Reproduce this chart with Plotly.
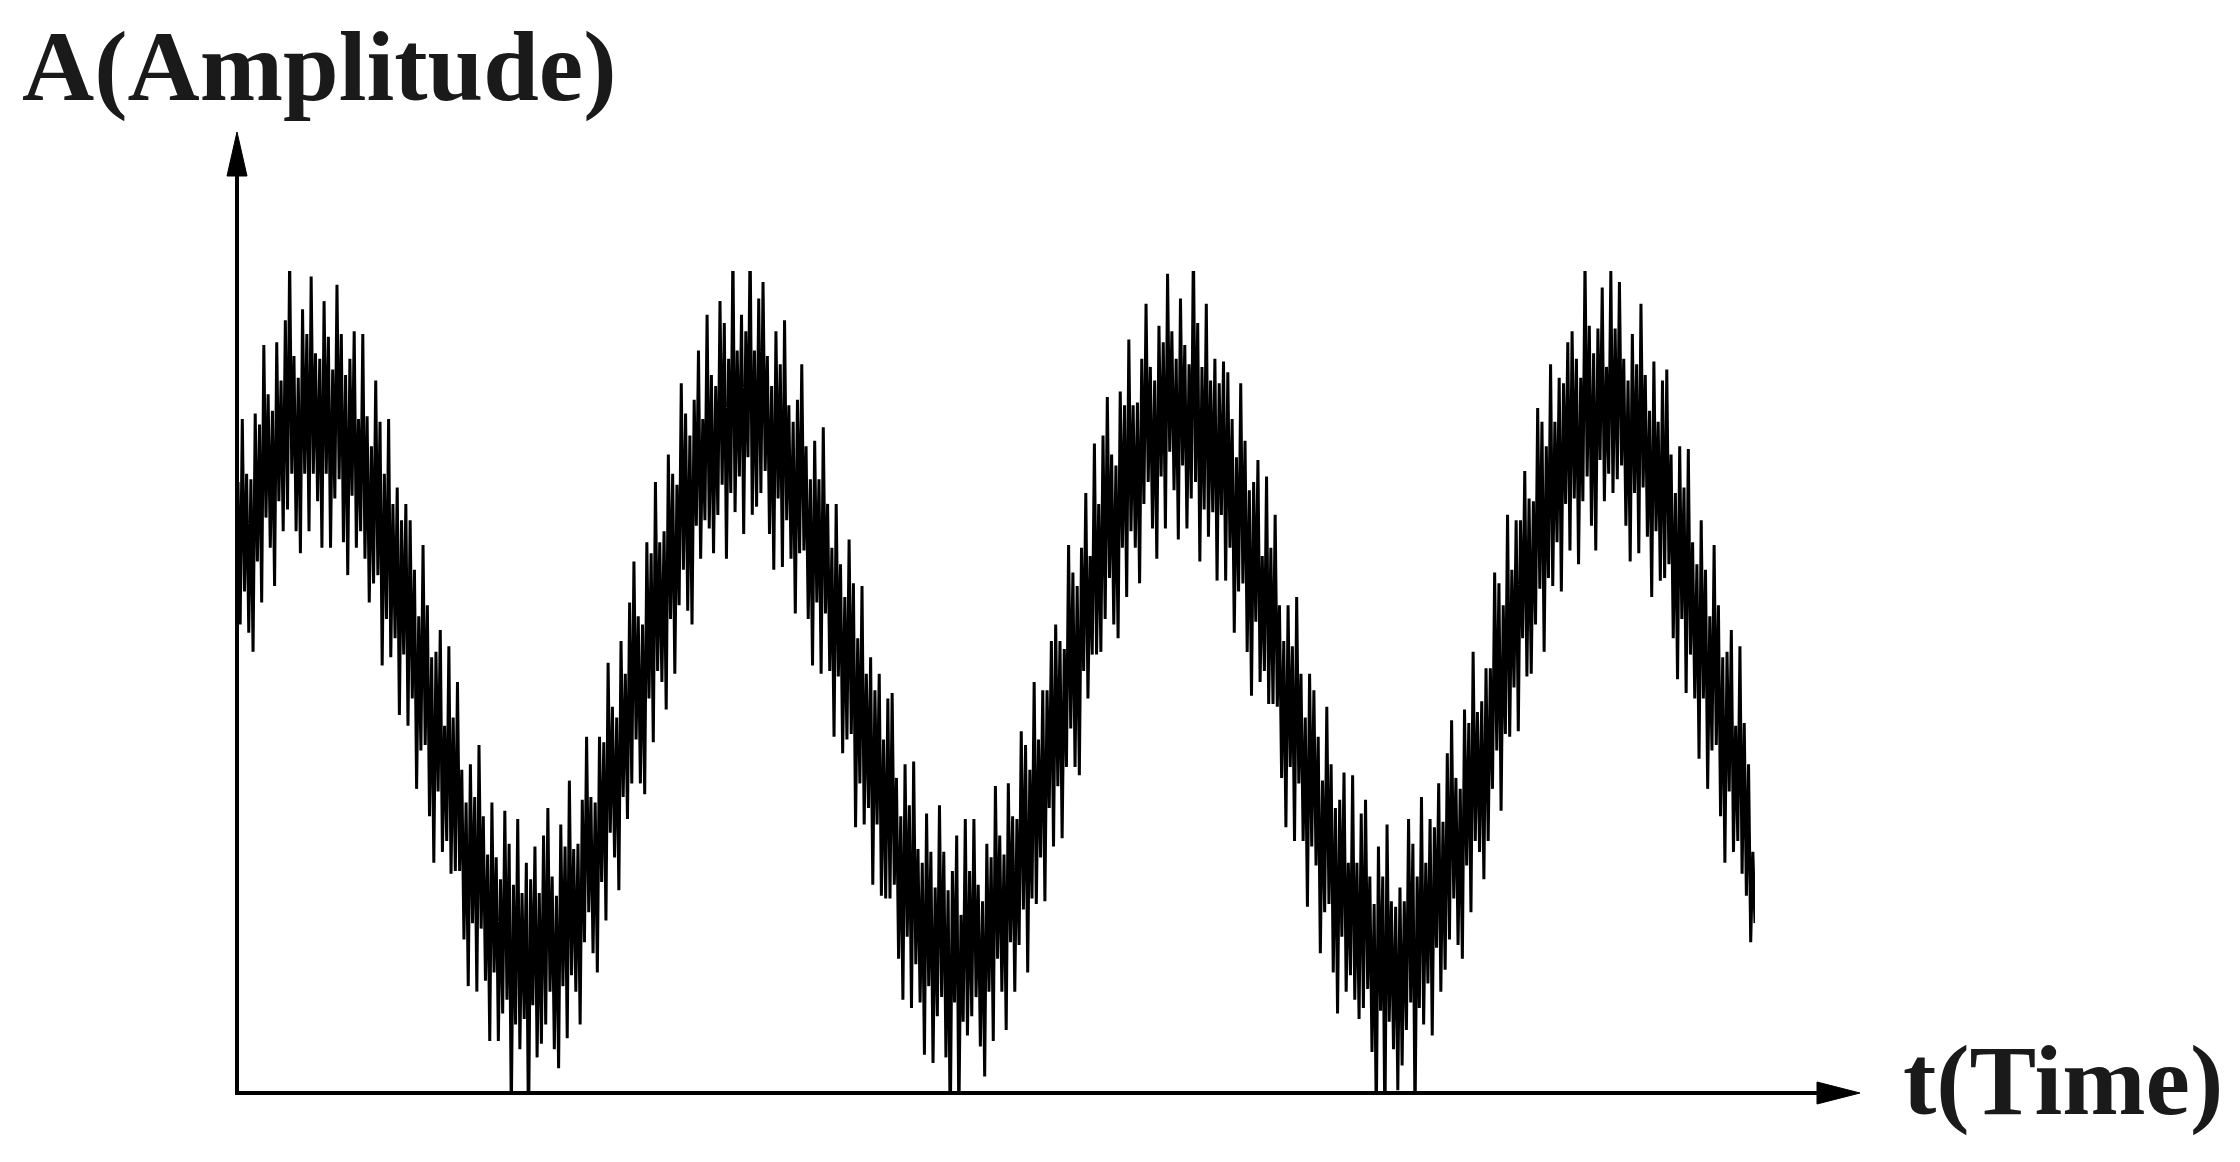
import plotly.graph_objects as go

W, H = 2240, 1162

# noisy sine, one value per sample (amplitude units)
amplitude = [
    73, 21, 96, 33, 76, 18, 74, 11, 98, 44, 94, 29, 123, 60, 105, 49, 99, 35, 124, 66,
    110, 55, 132, 63, 155, 76, 119, 55, 111, 47, 136, 76, 127, 55, 148, 76, 120, 66, 118, 49,
    139, 76, 126, 49, 114, 67, 145, 74, 127, 51, 112, 39, 118, 68, 128, 49, 96, 55, 127, 45,
    97, 29, 86, 36, 110, 39, 95, 6, 76, 23, 96, 9, 65, 16, 71, -12, 59, 10, 65, -16,
    59, -6, 41, -39, 24, -25, 50, -23, 28, -49, 9, -66, 11, -40, 19, -62, -16, -58, 13, -70,
    -13, -69, 0, -69, -32, -94, -44, -111, -30, -88, -42, -113, -23, -90, -49, -109, -63, -131, -44, -106,
    -64, -131, -72, -121, -47, -116, -59, -158, -74, -125, -50, -134, -77, -123, -66, -166, -72, -118, -60, -137,
    -77, -132, -56, -125, -46, -113, -71, -134, -78, -141, -52, -111, -60, -130, -36, -107, -61, -113, -59, -125,
    -43, -95, -20, -84, -42, -99, -44, -106, -20, -73, -22, -87, 7, -55, -9, -64, -13, -76, 15, -42,
    3, -50, 29, -37, 44, -21, 24, -37, 21, -41, 51, -6, 47, -22, 73, 4, 51, 0, 55, -10,
    83, 23, 76, 3, 72, 28, 109, 41, 98, 26, 90, 21, 103, 57, 121, 45, 96, 59, 134, 56,
    112, 47, 108, 61, 139, 72, 131, 45, 118, 69, 158, 62, 121, 75, 134, 54, 128, 82, 161, 61,
    121, 64, 140, 69, 146, 77, 119, 54, 108, 41, 128, 67, 116, 42, 132, 59, 101, 45, 95, 25,
    103, 47, 116, 48, 86, 23, 74, 6, 88, 29, 74, 3, 93, 25, 65, 4, 49, -20, 65, 2,
    43, -26, 31, -21, 52, -19, 36, -53, 16, -37, 35, -52, 3, -46, 9, -74, -3, -52, 3, -78,
    -21, -79, -6, -79, -4, -74, -35, -101, -49, -116, -30, -93, -45, -119, -29, -103, -61, -117, -66, -136,
    -48, -111, -62, -139, -75, -122, -45, -115, -62, -137, -76, -164, -69, -117, -56, -160, -85, -124, -50, -129,
    -69, -122, -50, -115, -74, -133, -80, -144, -59, -113, -64, -131, -38, -101, -56, -113, -63, -127, -37, -95,
    -49, -113, -50, -96, -18, -83, -23, -106, -32, -79, 0, -81, -21, -64, -3, -80, -3, -46, 15, -60,
    21, -38, 15, -57, 12, -31, 50, -17, 40, -31, 35, -34, 49, 4, 69, -6, 46, 10, 87, 10,
    65, 11, 90, 23, 104, 38, 83, 21, 79, 16, 106, 49, 101, 31, 125, 55, 101, 49, 102, 36,
    118, 65, 138, 73, 115, 56, 110, 45, 130, 75, 124, 56, 149, 84, 128, 70, 118, 52, 140, 79,
    123, 56, 116, 67, 160, 73, 131, 44, 115, 63, 138, 53, 110, 62, 118, 37, 109, 61, 117, 37,
    113, 49, 96, 18, 82, 33, 109, 36, 88, 11, 70, -5, 73, 22, 81, 0, 46, 4, 75, -8,
    49, -8, 61, -9, 28, -35, 15, -53, 28, -31, 13, -58, 31, -37, 3, -58, -13, -82, 3, -60,
    -3, -67, -20, -99, -36, -84, -9, -81, -30, -106, -46, -121, -43, -93, -33, -113, -66, -107, -34, -116,
    -66, -123, -48, -119, -43, -112, -71, -135, -81, -160, -60, -120, -71, -164, -52, -124, -80, -134, -82, -149,
    -75, -140, -80, -127, -50, -117, -59, -160, -71, -119, -42, -125, -66, -110, -50, -129, -53, -97, -37, -113,
    -51, -105, -26, -94, -14, -79, -35, -96, -39, -101, -10, -67, -15, -84, 11, -58, -11, -62, -7, -72,
    5, -58, 5, -39, 40, -25, 36, -47, 28, -19, 61, -20, 41, -2, 59, -18, 59, 16, 77, 2,
    67, 3, 66, 21, 100, 34, 95, 11, 86, 38, 116, 35, 95, 51, 111, 33, 109, 65, 124, 48,
    128, 67, 118, 43, 111, 66, 154, 75, 130, 57, 120, 48, 129, 81, 144, 66, 115, 76, 150, 69,
    129, 74, 146, 79, 118, 57, 110, 44, 127, 69, 116, 47, 138, 71, 112, 53, 99, 31, 117, 55,
    95, 37, 110, 38, 114, 43, 83, 16, 69, 1, 86, 23, 71, -4, 85, 10, 51, -6, 43, -28,
    59, -6, 41, -39, 24, -25, 50, -23, 28, -49, 9, -66, 11, -40, 19, -62, -16, -58, 13, -70,
    -15, -78, -30, -95, -62, -88,
]
t = list(range(len(amplitude)))

y_label = "A(Amplitude)"
x_label = "t(Time)"


def px(x):
    return x / W


def py(y):
    return 1 - y / H


fig = go.Figure()
fig.add_trace(go.Scatter(
    x=t, y=amplitude, mode="lines",
    line=dict(color="#000000", width=3),
    hoverinfo="skip", showlegend=False,
))

# axes drawn by hand, with arrow heads
ox, oy = 229, 1085
shapes = [
    dict(type="line", xref="paper", yref="paper",
         x0=px(ox), y0=py(oy), x1=px(ox), y1=py(165),
         line=dict(color="#000", width=4)),
    dict(type="line", xref="paper", yref="paper",
         x0=px(ox - 2), y0=py(oy), x1=px(1815), y1=py(oy),
         line=dict(color="#000", width=4)),
    dict(type="path", xref="paper", yref="paper",
         path="M {} {} L {} {} L {} {} Z".format(px(ox), py(124), px(ox - 10), py(168),
                                                 px(ox + 10), py(168)),
         fillcolor="#000", line=dict(color="#000", width=1)),
    dict(type="path", xref="paper", yref="paper",
         path="M {} {} L {} {} L {} {} Z".format(px(1852), py(oy), px(1809), py(oy - 11),
                                                 px(1809), py(oy + 11)),
         fillcolor="#000", line=dict(color="#000", width=1)),
]

font = dict(family="Liberation Serif, Times New Roman, serif", size=100, color="#1a1a1a")
annotations = [
    dict(text="<b>" + y_label + "</b>", xref="paper", yref="paper",
         x=px(12), y=py(58), xanchor="left", yanchor="middle",
         showarrow=False, font=font),
    dict(text="<b>" + x_label + "</b>", xref="paper", yref="paper",
         x=px(1893), y=py(1072), xanchor="left", yanchor="middle",
         showarrow=False, font=font),
]

fig.update_layout(
    width=W, height=H,
    margin=dict(l=0, r=0, t=0, b=0),
    paper_bgcolor="white", plot_bgcolor="white",
    xaxis=dict(visible=False, range=[0, len(amplitude) - 1],
               domain=[px(230), px(1747)]),
    yaxis=dict(visible=False, range=[-150, 150],
               domain=[py(1085), py(263)]),
    shapes=shapes,
    annotations=annotations,
)

fig.write_html("out.html")
